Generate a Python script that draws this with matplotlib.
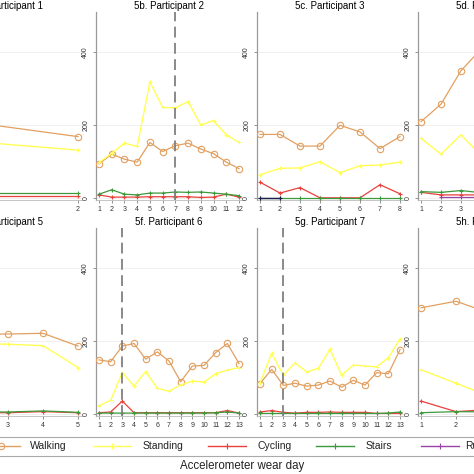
import numpy as np
import matplotlib
matplotlib.use("Agg")
import matplotlib.pyplot as plt
from matplotlib.lines import Line2D
from matplotlib.patches import Rectangle

plt.rcParams['font.family'] = ['Liberation Sans', 'DejaVu Sans']

# ---------------- data (minutes per day) ----------------
titles = ["5a. Participant 1", "5b. Participant 2", "5c. Participant 3", "5d. Participant 4",
          "5e. Participant 5", "5f. Participant 6", "5g. Participant 7", "5h. Participant 8"]
n_days = [2, 12, 8, 8, 5, 13, 13, 5]
change_day = [None, 7, None, None, None, 3, 3, None]

walking_p1 = [220, 168]
standing_p1 = [162, 131]
cycling_p1 = [4, 4]
stairs_p1 = [14, 14]

walking_p2 = [93, 120, 106, 98, 152, 127, 143, 150, 134, 121, 98, 80]
standing_p2 = [97, 122, 150, 141, 318, 248, 247, 264, 200, 212, 173, 152]
cycling_p2 = [8, 2, 2, 2, 3, 3, 3, 3, 1, 2, 10, 2]
stairs_p2 = [10, 22, 10, 8, 13, 13, 16, 15, 16, 13, 10, 6]

walking_p3 = [174, 174, 142, 142, 199, 181, 135, 168]
standing_p3 = [63, 81, 82, 99, 69, 88, 90, 98]
cycling_p3 = [43, 13, 28, 0, 0, 0, 36, 11]
stairs_p3 = [0, 0, 0, 0, 0, 0, 0, 0]
other_p3 = [0, 0]

walking_p4 = [209, 257, 349, 408]
standing_p4 = [163, 120, 173, 116]
cycling_p4 = [15, 8, 8, 8]
stairs_p4 = [17, 15, 20, 14]
running_p4 = [np.nan, 2, 2, 2]

walking_p5 = [220, 218, 219, 221, 186]
standing_p5 = [195, 193, 191, 187, 127]
cycling_p5 = [3, 3, 3, 6, 3]
stairs_p5 = [5, 5, 5, 8, 4]

walking_p6 = [148, 143, 186, 193, 150, 170, 145, 88, 131, 133, 168, 193, 138]
standing_p6 = [22, 37, 113, 76, 116, 70, 62, 79, 90, 87, 110, 120, 127]
cycling_p6 = [3, 5, 35, 3, 3, 3, 3, 3, 3, 3, 3, 9, 2]
stairs_p6 = [2, 2, 2, 2, 2, 2, 2, 2, 2, 2, 3, 5, 2]

walking_p7 = [83, 122, 78, 84, 76, 79, 90, 73, 92, 79, 113, 110, 176]
standing_p7 = [85, 166, 106, 140, 115, 125, 177, 106, 134, 131, 129, 154, 205]
cycling_p7 = [5, 9, 4, 2, 4, 4, 5, 4, 4, 4, 1, 1, 1]
stairs_p7 = [1, 1, 1, 1, 1, 1, 1, 1, 1, 1, 1, 2, 5]

walking_p8 = [291, 309, 275]
standing_p8 = [121, 84, 46]
cycling_p8 = [35, 6, 12]
stairs_p8 = [3, 6, 5]

walking = [walking_p1, walking_p2, walking_p3, walking_p4, walking_p5, walking_p6, walking_p7, walking_p8]
standing = [standing_p1, standing_p2, standing_p3, standing_p4, standing_p5, standing_p6, standing_p7, standing_p8]
cycling = [cycling_p1, cycling_p2, cycling_p3, cycling_p4, cycling_p5, cycling_p6, cycling_p7, cycling_p8]
stairs = [stairs_p1, stairs_p2, stairs_p3, stairs_p4, stairs_p5, stairs_p6, stairs_p7, stairs_p8]
running = [None, None, None, running_p4, None, None, None, None]
other = [None, None, other_p3, None, None, None, None, None]

y_ticks = [0, 200, 400]
legend_labels = ["Walking", "Standing", "Cycling", "Stairs", "Running"]
xlabel_text = "Accelerometer wear day"

# ---------------- styles ----------------
C_WALK = "#E2A060"
C_STAND = "#FFFF55"
C_CYC = "#E8413C"
C_STAIR = "#3C9A3C"
C_RUN = "#9A44A8"
C_OTHER = "#1E1E50"

W, H = 474, 474
fig = plt.figure(figsize=(W / 100, H / 100), dpi=100)
fig.patch.set_facecolor("white")

lefts = [-65.5, 95.5, 256.5, 417.5]
tops = [12, 228]
ax_h = 188
ax_w = 147


def days(v):
    return np.arange(1, len(v) + 1)


for i in range(8):
    r, c = divmod(i, 4)
    left = lefts[c]
    top = tops[r]
    ax = fig.add_axes([left / W, 1 - (top + ax_h) / H, ax_w / W, ax_h / H])
    n = n_days[i]
    s = 140.0 / (n - 1)
    pad = 3.5 / s
    x0, x1 = 1 - pad, n + pad
    ax.set_xlim(x0, x1)
    ax.set_ylim(-6, 510)

    ax.plot(days(walking[i]), walking[i], color=C_WALK, lw=0.9, marker='o', ms=4.6,
            mfc='none', mec=C_WALK, mew=0.8, zorder=3)
    ax.plot(days(standing[i]), standing[i], color=C_STAND, lw=1.0, marker='+', ms=3,
            mew=0.7, zorder=3)
    ax.plot(days(cycling[i]), cycling[i], color=C_CYC, lw=0.9, marker='+', ms=3.5,
            mew=0.8, zorder=3)
    ax.plot(days(stairs[i]), stairs[i], color=C_STAIR, lw=0.9, marker='+', ms=3.5,
            mew=0.8, zorder=3)
    if running[i] is not None:
        ax.plot(days(running[i]), running[i], color=C_RUN, lw=0.9, marker='+', ms=3.5,
                mew=0.8, zorder=3)
    if other[i] is not None:
        ax.plot(days(other[i]), other[i], color=C_OTHER, lw=1.0, marker='+', ms=3.5,
                mew=0.8, zorder=4)
    if change_day[i] is not None:
        ax.axvline(change_day[i], color="#808080", lw=1.3, ls=(0, (6, 3)), zorder=5)

    ax.set_title(titles[i], fontsize=7, pad=2.5)

    # tick labels: only those that fall inside the visible canvas get text
    ax.set_yticks(y_ticks)
    if left - 10 > 0:
        ax.set_yticklabels([str(t) for t in y_ticks], rotation=90, va='center', fontsize=5)
    else:
        ax.set_yticklabels(["" for _ in y_ticks])
    tick_days = np.arange(1, n + 1)
    ax.set_xticks(tick_days)
    xlabels = []
    for d in tick_days:
        px = left + (d - x0) / (x1 - x0) * ax_w
        xlabels.append(str(d) if 3 <= px <= W - 3 else "")
    ax.set_xticklabels(xlabels, fontsize=5)

    ax.tick_params(axis='both', length=2.5, width=0.5, color="#666666", pad=2,
                   labelcolor="#333333")
    ax.grid(axis='y', color="#EEEEEE", lw=0.6)
    ax.set_axisbelow(True)
    for sp in ["top", "right"]:
        ax.spines[sp].set_visible(False)
    ax.spines["left"].set_color("#999999")
    ax.spines["left"].set_linewidth(0.9)
    ax.spines["bottom"].set_color("#BBBBBB")
    ax.spines["bottom"].set_linewidth(0.6)
    ax.set_facecolor("white")

# ---------------- legend (drawn in a figure-wide overlay axes) ----------------
lax = fig.add_axes([0, 0, 1, 1])
lax.set_xlim(0, W)
lax.set_ylim(H, 0)
lax.axis("off")
lax.patch.set_alpha(0)
lax.add_patch(Rectangle((-50, 436.5), W + 100, 19.5, fill=False, ec="#AAAAAA", lw=0.8,
                        clip_on=False))
colors = [C_WALK, C_STAND, C_CYC, C_STAIR, C_RUN]
markers = ['o', '+', '+', '+', '+']
key_starts = [-18, 93, 208, 316, 421]
text_starts = [30, 143, 258, 366, 465]
for lab, col, mk, ks, ts in zip(legend_labels, colors, markers, key_starts, text_starts):
    mid = ks + 19
    lax.add_line(Line2D([ks, ks + 38], [446, 446], color=col, lw=1.0))
    if mk == 'o':
        lax.add_line(Line2D([mid], [446], marker='o', ms=4.6, mfc='none', mec=col, mew=0.8))
    else:
        lax.add_line(Line2D([mid], [446], marker='+', ms=4, color=col, mew=0.8))
    lax.text(ts, 446, lab, fontsize=7.5, va='center', ha='left', color="#222222")

lax.text(242, 466, xlabel_text, fontsize=8.3, ha='center', va='center', color="#222222")

fig.savefig("out.png", dpi=100, facecolor="white")
